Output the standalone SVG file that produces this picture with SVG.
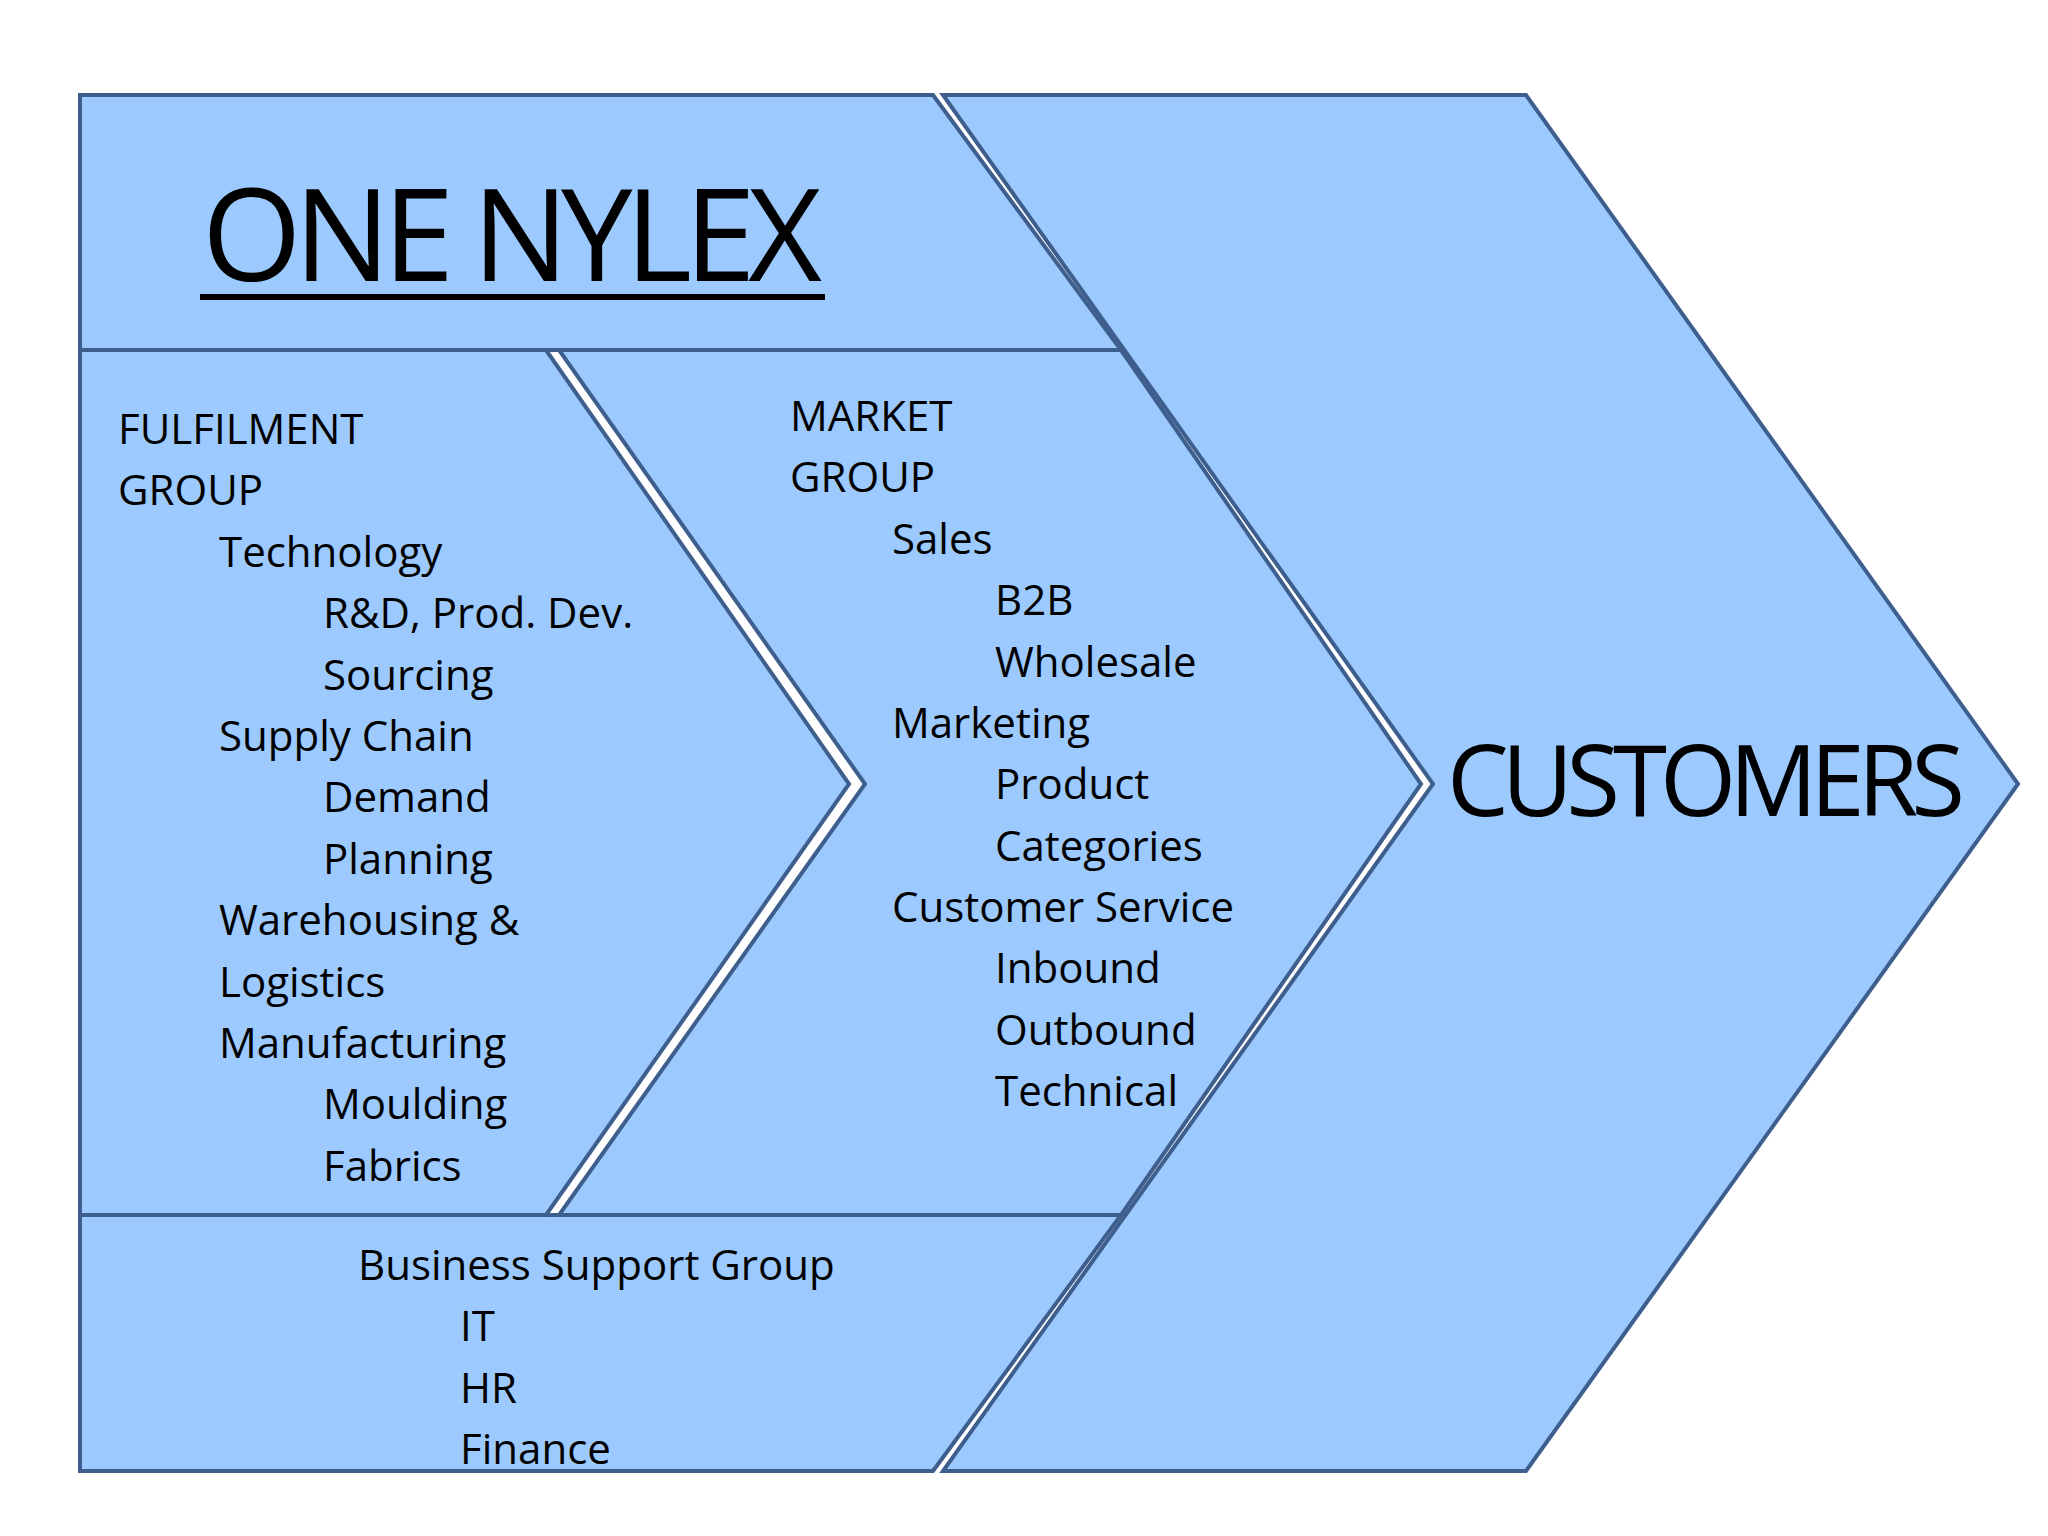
<svg xmlns="http://www.w3.org/2000/svg" width="2048" height="1536" viewBox="0 0 2048 1536">
<style>
.s{fill:#9ccaff;stroke:#3e5f8e;stroke-width:4;stroke-linejoin:miter}
text{font-family:"Open Sans","Liberation Sans",sans-serif;fill:#000}
.t{font-size:42px}
</style>
<rect width="2048" height="1536" fill="#fff"/>
<g id="customers"><polygon class="s" points="943,95 1526,95 2018,784 1526,1471 943,1471 1433,784"/>
<text x="1447" y="816" font-size="98" textLength="518">CUSTOMERS</text></g>
<g id="onenylex"><polygon class="s" points="80,95 933,95 1121,350 80,350"/>
<text x="202" y="281" font-size="128" textLength="620">ONE NYLEX</text>
<rect x="200" y="294" width="625" height="6" fill="#000"/></g>
<g id="business"><polygon class="s" points="80,1215 1121,1215 933,1471 80,1471"/>
<g class="t"><text x="358" y="1280">Business Support Group</text><text x="460" y="1341">IT</text><text x="460" y="1403">HR</text><text x="460" y="1464">Finance</text></g></g>
<g id="market"><polygon class="s" points="559,350 1121,350 1421,784 1121,1215 559,1215 865,784"/>
<g class="t"><text x="790" y="431">MARKET</text><text x="790" y="492">GROUP</text><text x="892" y="554">Sales</text><text x="995" y="615">B2B</text><text x="995" y="677">Wholesale</text><text x="892" y="738">Marketing</text><text x="995" y="799">Product</text><text x="995" y="861">Categories</text><text x="892" y="922">Customer Service</text><text x="995" y="983">Inbound</text><text x="995" y="1045">Outbound</text><text x="995" y="1106">Technical</text></g></g>
<g id="fulfilment"><polygon class="s" points="80,350 546,350 849,784 546,1215 80,1215"/>
<g class="t"><text x="118" y="444">FULFILMENT</text><text x="118" y="505">GROUP</text><text x="219" y="567">Technology</text><text x="323" y="628">R&amp;D, Prod. Dev.</text><text x="323" y="690">Sourcing</text><text x="219" y="751">Supply Chain</text><text x="323" y="812">Demand</text><text x="323" y="874">Planning</text><text x="219" y="935">Warehousing &amp;</text><text x="219" y="997">Logistics</text><text x="219" y="1058">Manufacturing</text><text x="323" y="1119">Moulding</text><text x="323" y="1181">Fabrics</text></g></g>
<g id="connectors"></g>
</svg>
